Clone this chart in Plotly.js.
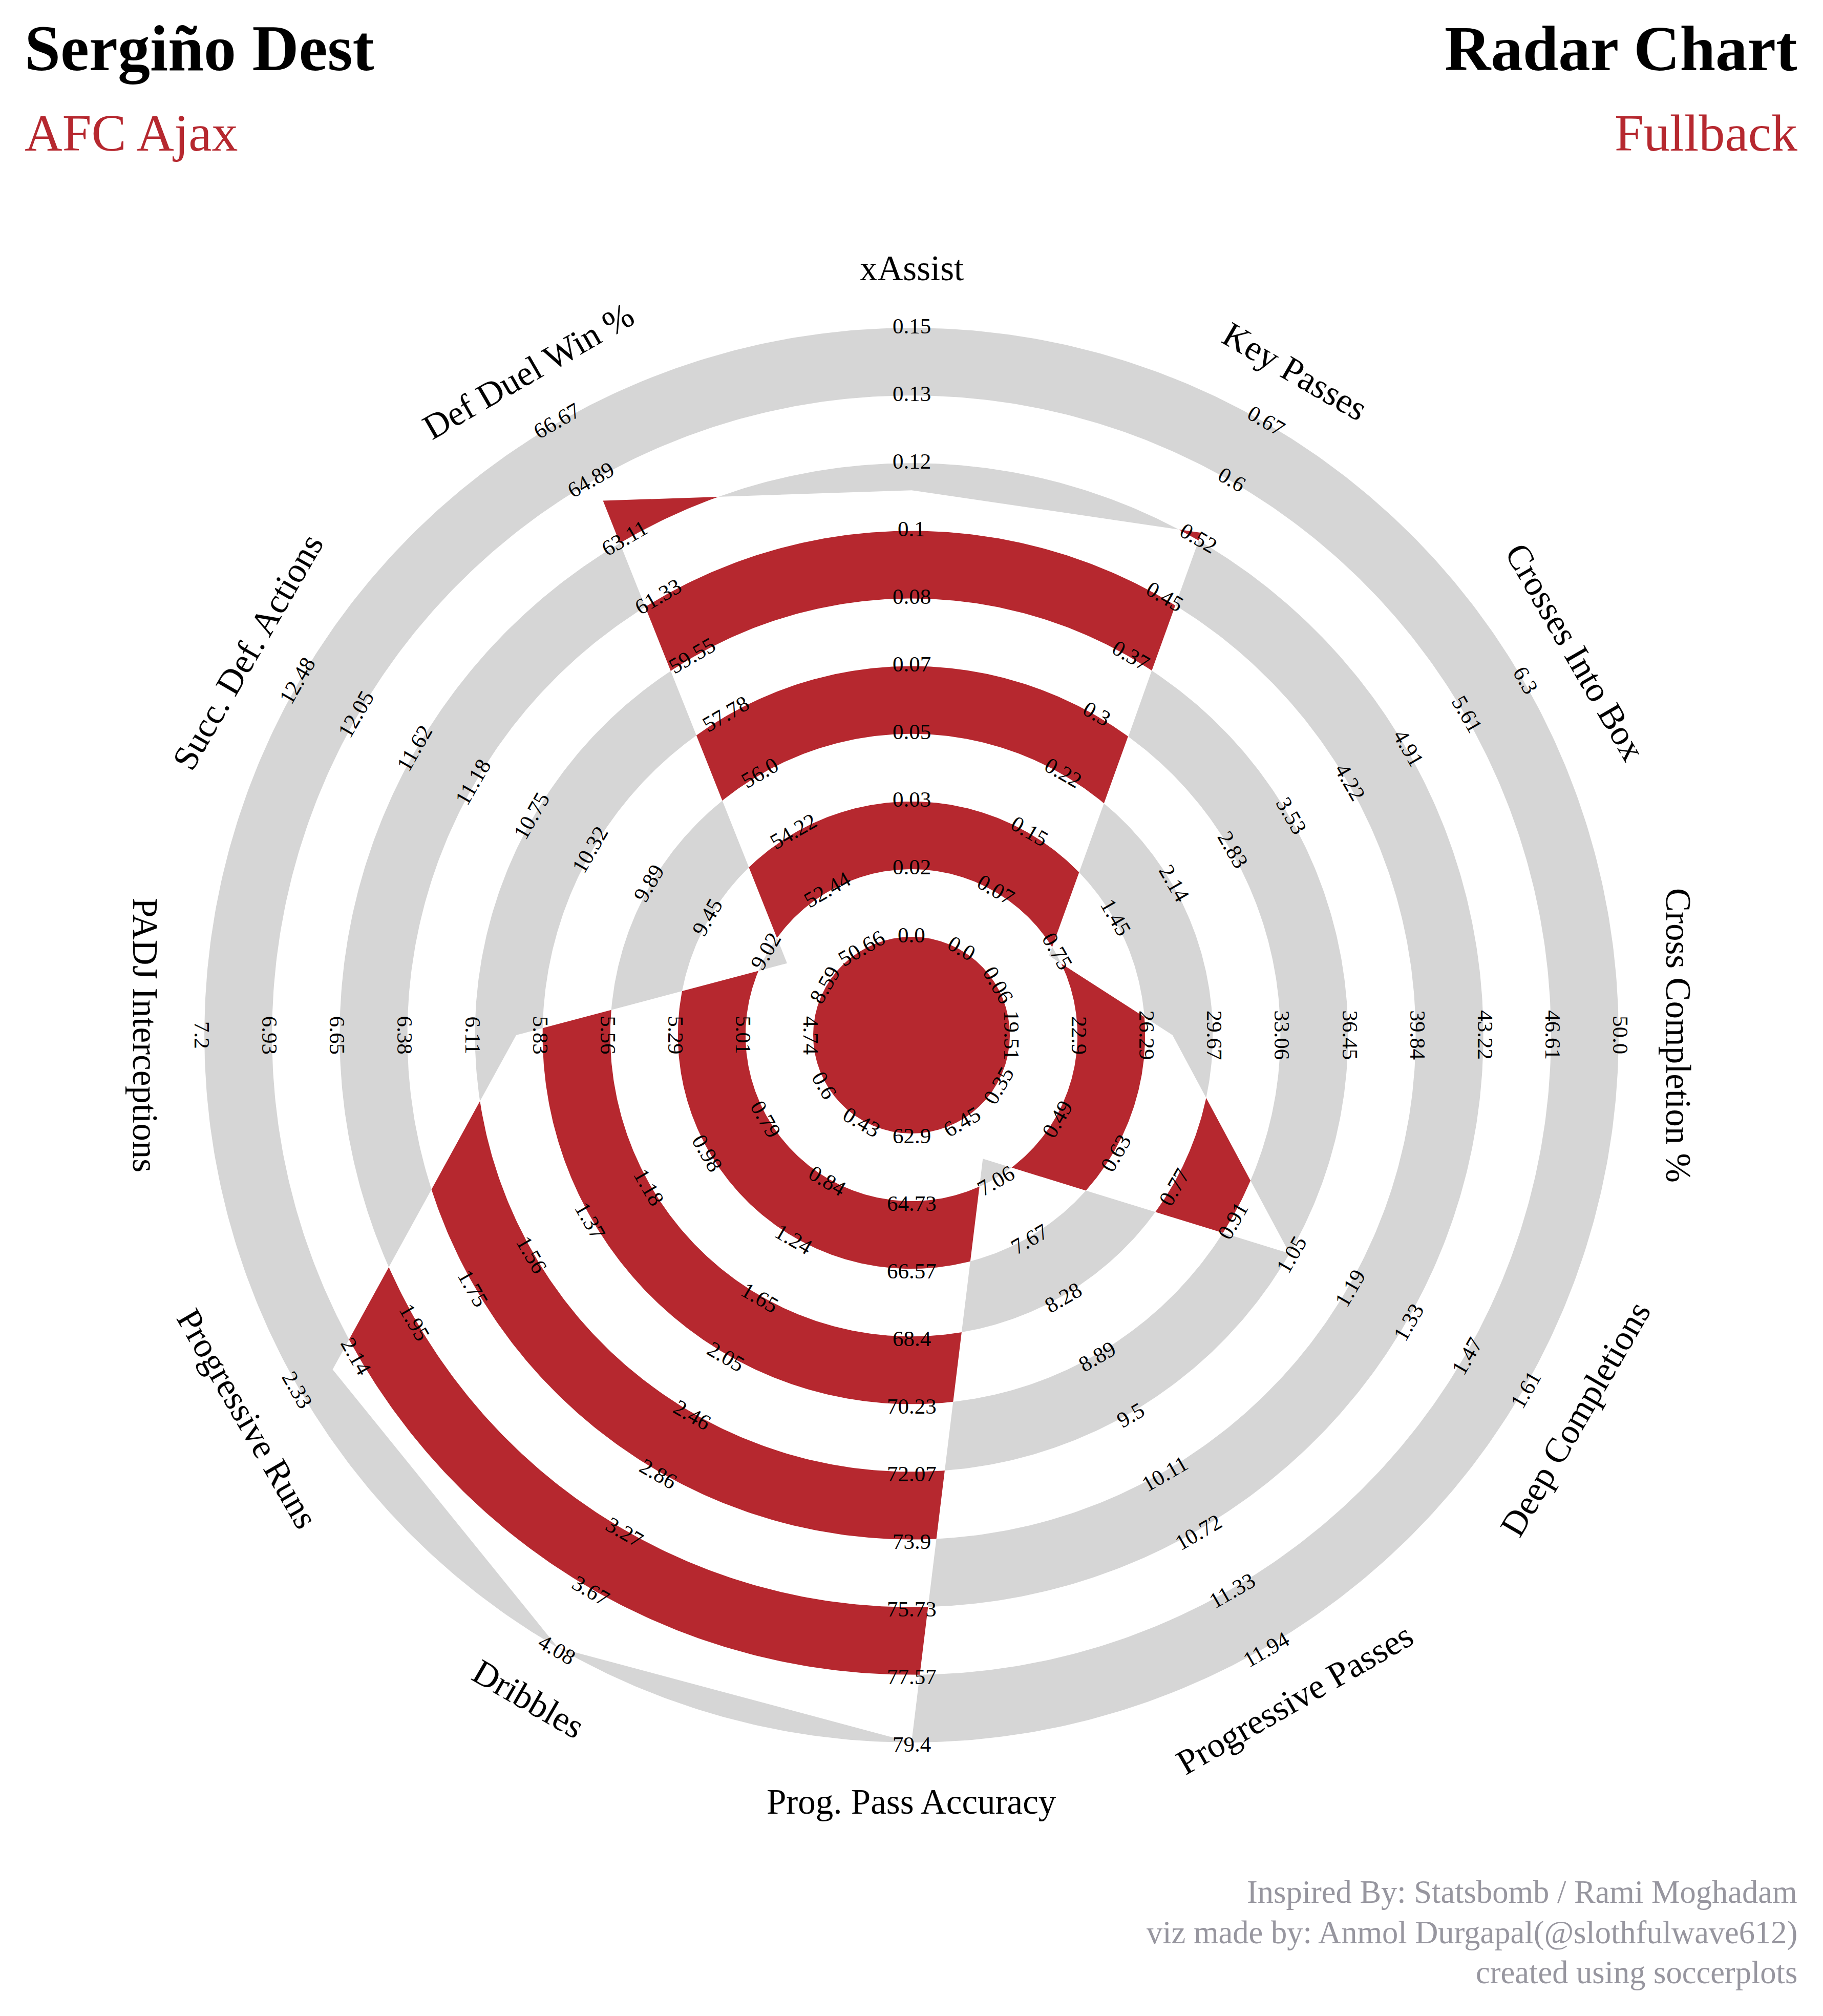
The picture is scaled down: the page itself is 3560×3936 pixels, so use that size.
<!DOCTYPE html>
<html><head><meta charset="utf-8">
<script src="https://cdn.plot.ly/plotly-3.0.1.min.js"></script>
<style>html,body{margin:0;padding:0;background:#fff}</style>
</head><body><div id="chart" style="width:3560px;height:3936px"></div>
<script>
// ---------------- data ----------------
const params = ["xAssist","Key Passes","Crosses Into Box","Cross Completion %","Deep Completions",
  "Progressive Passes","Prog. Pass Accuracy","Dribbles","Progressive Runs","PADJ Interceptions",
  "Succ. Def. Actions","Def Duel Win %"];
const values = [0.11, 0.53, 0.68, 27.66, 1.05, 6.85, 79.4, 4.08, 2.22, 5.94, 8.88, 64.3];
const rangeLow  = [0.0, 0.0, 0.06, 19.51, 0.35, 6.45, 62.9, 0.43, 0.6, 4.74, 8.59, 50.66];
const rangeHigh = [0.15, 0.67, 6.3, 50.0, 1.61, 11.94, 79.4, 4.08, 2.33, 7.2, 12.48, 66.67];
const tickLabels = [
  ["0.0","0.02","0.03","0.05","0.07","0.08","0.1","0.12","0.13","0.15"],
  ["0.0","0.07","0.15","0.22","0.3","0.37","0.45","0.52","0.6","0.67"],
  ["0.06","0.75","1.45","2.14","2.83","3.53","4.22","4.91","5.61","6.3"],
  ["19.51","22.9","26.29","29.67","33.06","36.45","39.84","43.22","46.61","50.0"],
  ["0.35","0.49","0.63","0.77","0.91","1.05","1.19","1.33","1.47","1.61"],
  ["6.45","7.06","7.67","8.28","8.89","9.5","10.11","10.72","11.33","11.94"],
  ["62.9","64.73","66.57","68.4","70.23","72.07","73.9","75.73","77.57","79.4"],
  ["0.43","0.84","1.24","1.65","2.05","2.46","2.86","3.27","3.67","4.08"],
  ["0.6","0.79","0.98","1.18","1.37","1.56","1.75","1.95","2.14","2.33"],
  ["4.74","5.01","5.29","5.56","5.83","6.11","6.38","6.65","6.93","7.2"],
  ["8.59","9.02","9.45","9.89","10.32","10.75","11.18","11.62","12.05","12.48"],
  ["50.66","52.44","54.22","56.0","57.78","59.55","61.33","63.11","64.89","66.67"]
];
const titleLeft = "Sergiño Dest", subLeft = "AFC Ajax";
const titleRight = "Radar Chart", subRight = "Fullback";
const credits = ["Inspired By: Statsbomb / Rami Moghadam",
                 "viz made by: Anmol Durgapal(@slothfulwave612)",
                 "created using soccerplots"];

// ---------------- layout constants ----------------
const W = 3560, H = 3936, CX = 1780, CY = 2021;
const R0 = 192, RW = 132.1, NR = 9, RMAX = R0 + NR * RW;
const RED = "#B6282F", GREY = "#D6D6D6", CREDIT = "#97969F";
const FONT = "Liberation Serif, Times New Roman, serif";
const n = params.length;
const DEG = Math.PI / 180;

function angDeg(i) { return 90 - 360 / n * i; }
function radiusOf(i, v) {
  return R0 + (v - rangeLow[i]) / (rangeHigh[i] - rangeLow[i]) * (RMAX - R0);
}
const verts = values.map((v, i) => {
  const r = radiusOf(i, v), a = angDeg(i) * DEG;
  return [r * Math.cos(a), r * Math.sin(a)];
});
function cross(ax, ay, bx, by) { return ax * by - ay * bx; }
function polyR(phiDeg) {
  const dx = Math.cos(phiDeg * DEG), dy = Math.sin(phiDeg * DEG);
  let best = null;
  for (let i = 0; i < n; i++) {
    const A = verts[i], B = verts[(i + 1) % n];
    const Dx = B[0] - A[0], Dy = B[1] - A[1];
    const den = cross(dx, dy, Dx, Dy);
    if (Math.abs(den) < 1e-12) continue;
    const r = cross(A[0], A[1], Dx, Dy) / den;
    const t = cross(A[0], A[1], dx, dy) / den;
    if (r > 0 && t >= -1e-9 && t <= 1 + 1e-9) { if (best === null || r < best) best = r; }
  }
  return best === null ? 0 : best;
}
function crossings(R) {
  const out = [];
  for (let i = 0; i < n; i++) {
    const A = verts[i], B = verts[(i + 1) % n];
    const Dx = B[0] - A[0], Dy = B[1] - A[1];
    const qa = Dx * Dx + Dy * Dy, qb = 2 * (A[0] * Dx + A[1] * Dy), qc = A[0] * A[0] + A[1] * A[1] - R * R;
    const disc = qb * qb - 4 * qa * qc;
    if (disc < 0) continue;
    const s = Math.sqrt(disc);
    [(-qb - s) / (2 * qa), (-qb + s) / (2 * qa)].forEach(t => {
      if (t >= 0 && t <= 1) {
        const x = A[0] + t * Dx, y = A[1] + t * Dy;
        let g = Math.atan2(y, x) / DEG; if (g < 0) g += 360;
        out.push(g);
      }
    });
  }
  return out;
}
function bandShapes(a, b, isRed) {
  let angs = [];
  for (let k = 0; k < 720; k++) angs.push(k * 0.5);
  for (let i = 0; i < n; i++) { let g = angDeg(i) % 360; if (g < 0) g += 360; angs.push(g); }
  [a, b].forEach(R => { if (R > 0) crossings(R).forEach(g => angs.push(g)); });
  angs.sort((p, q) => p - q);
  const u = [];
  angs.forEach(g => { if (!u.length || g - u[u.length - 1] > 1e-7) u.push(g); });
  angs = u;
  const N = angs.length;
  const pr = angs.map(polyR);
  const ok = pr.map(p => isRed ? p >= a - 1e-6 : p <= b + 1e-6);
  const pt = (r, g) => [r * Math.cos(g * DEG), r * Math.sin(g * DEG)];
  const shapes = [];
  const s = ok.indexOf(false);
  if (s < 0) {
    const xs = [], ys = [];
    const outer = isRed ? (ix => Math.min(b, pr[ix])) : (ix => b);
    const inner = isRed ? (ix => a) : (ix => Math.max(a, pr[ix]));
    for (let ix = 0; ix <= N; ix++) { const q = pt(outer(ix % N), angs[ix % N]); xs.push(q[0]); ys.push(q[1]); }
    if (a > 0) for (let ix = N; ix >= 0; ix--) { const q = pt(inner(ix % N), angs[ix % N]); xs.push(q[0]); ys.push(q[1]); }
    shapes.push([xs, ys]);
    return shapes;
  }
  const runs = [];
  let cur = null;
  for (let m = 1; m <= N; m++) {
    const ix = (s + m) % N;
    if (ok[ix]) { if (!cur) cur = []; cur.push(ix); }
    else if (cur) { runs.push(cur); cur = null; }
  }
  if (cur) runs.push(cur);
  runs.forEach(run => {
    const xs = [], ys = [];
    run.forEach(ix => {
      const r = isRed ? Math.min(b, pr[ix]) : b;
      const q = pt(r, angs[ix]); xs.push(q[0]); ys.push(q[1]);
    });
    for (let m = run.length - 1; m >= 0; m--) {
      const ix = run[m];
      const r = isRed ? a : Math.max(a, pr[ix]);
      const q = pt(r, angs[ix]); xs.push(q[0]); ys.push(q[1]);
    }
    xs.push(xs[0]); ys.push(ys[0]);
    shapes.push([xs, ys]);
  });
  return shapes;
}

// ---------------- traces ----------------
const traces = [];
for (let j = 0; j <= NR; j++) {
  const a = j === 0 ? 0 : R0 + (j - 1) * RW;
  const b = R0 + j * RW;
  const isRed = (j % 2 === 0);
  bandShapes(a, b, isRed).forEach(([xs, ys]) => {
    traces.push({type: "scatter", mode: "lines", x: xs, y: ys, fill: "toself",
      fillcolor: isRed ? RED : GREY, line: {width: 0, color: isRed ? RED : GREY},
      hoverinfo: "skip", showlegend: false});
  });
}

// ---------------- text ----------------
function textAngle(i) {
  let rot = (360 - 360 / n * i) % 360;
  if (rot >= 90 && rot < 270) rot -= 180;
  let ta = -rot;
  if (ta <= -180) ta += 360;
  if (ta > 180) ta -= 360;
  return ta;
}
const ann = [];
for (let i = 0; i < n; i++) {
  const a = angDeg(i) * DEG, ta = textAngle(i);
  tickLabels[i].forEach((t, k) => {
    const r = R0 + k * RW + 4;
    ann.push({x: r * Math.cos(a), y: r * Math.sin(a), text: t, showarrow: false,
      xanchor: "center", yanchor: "middle", textangle: ta,
      font: {family: FONT, size: 43, color: "#000"}});
  });
  const rl = 1497;
  ann.push({x: rl * Math.cos(a), y: rl * Math.sin(a), text: params[i], showarrow: false,
    xanchor: "center", yanchor: "middle", textangle: ta,
    font: {family: FONT, size: 69, color: "#000"}});
}
const px = v => v - CX, py = v => CY - v;
ann.push({x: px(46), y: py(95), text: "<b>" + titleLeft + "</b>", showarrow: false, xanchor: "left", yanchor: "middle",
  font: {family: FONT, size: 126, color: "#000"}});
ann.push({x: px(46), y: py(259), text: subLeft, showarrow: false, xanchor: "left", yanchor: "middle",
  font: {family: FONT, size: 102, color: RED}});
ann.push({x: px(3512), y: py(95), text: "<b>" + titleRight + "</b>", showarrow: false, xanchor: "right", yanchor: "middle",
  font: {family: FONT, size: 125, color: "#000"}});
ann.push({x: px(3512), y: py(259), text: subRight, showarrow: false, xanchor: "right", yanchor: "middle",
  font: {family: FONT, size: 102, color: RED}});
credits.forEach((c, k) => {
  ann.push({x: px(3512), y: py(3694 + 78.5 * k), text: c, showarrow: false, xanchor: "right", yanchor: "middle",
    font: {family: FONT, size: 62.5, color: CREDIT}});
});

const layout = {
  width: W, height: H, margin: {l: 0, r: 0, t: 0, b: 0, pad: 0},
  paper_bgcolor: "#fff", plot_bgcolor: "#fff", showlegend: false,
  xaxis: {range: [-CX, W - CX], visible: false, fixedrange: true},
  yaxis: {range: [-(H - CY), CY], visible: false, fixedrange: true},
  annotations: ann
};
Plotly.newPlot("chart", traces, layout, {staticPlot: true, displayModeBar: false});
</script></body></html>
